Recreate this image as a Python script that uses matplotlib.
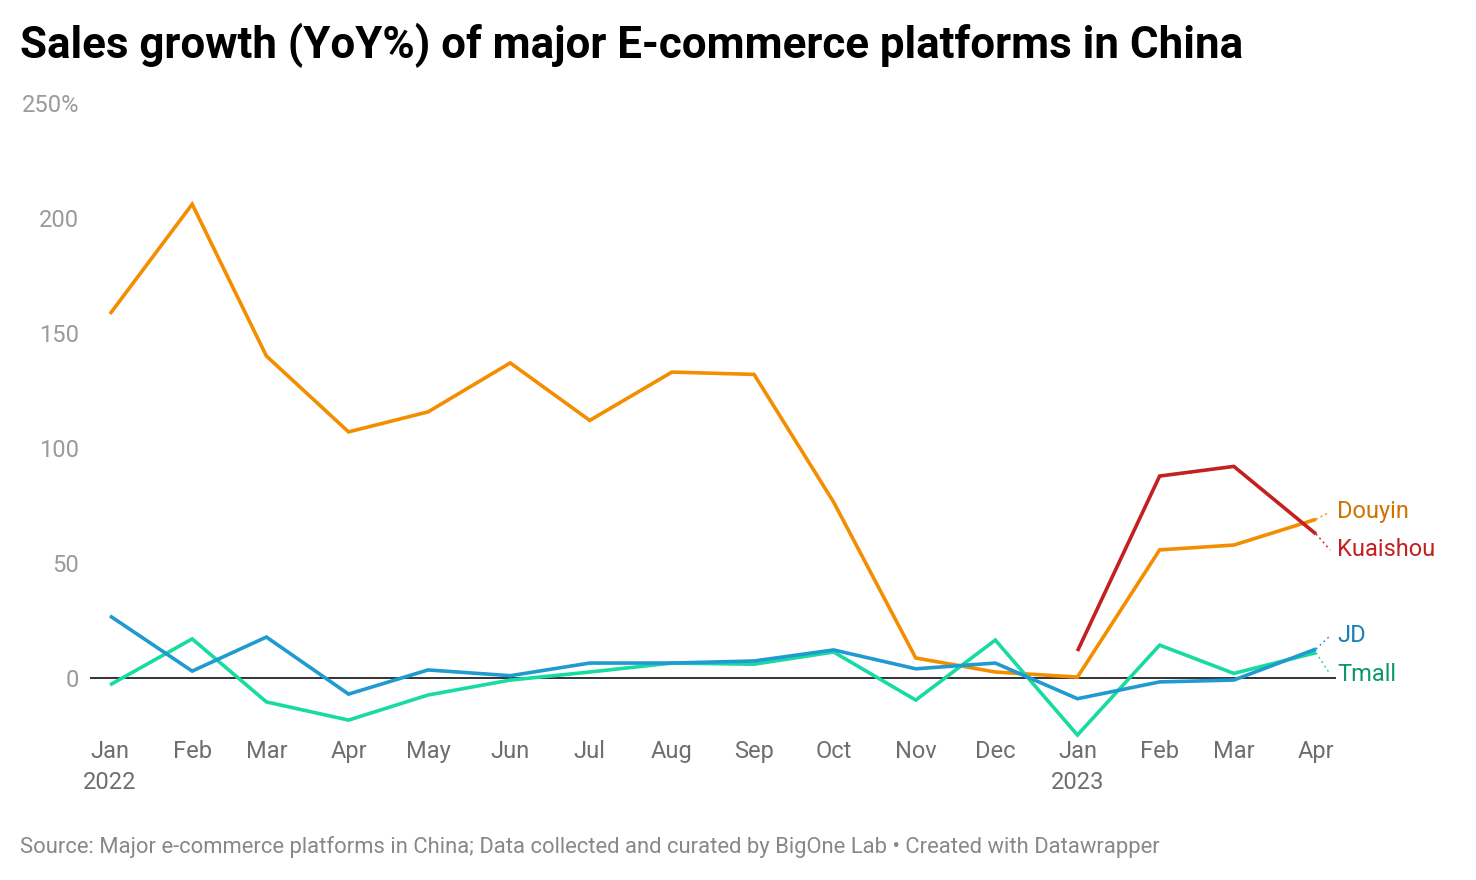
import matplotlib
matplotlib.use("Agg")
import matplotlib.pyplot as plt
from datetime import date

plt.rcParams['font.family'] = ['Roboto', 'DejaVu Sans']

dates = ["2022-01-01", "2022-02-01", "2022-03-01", "2022-04-01", "2022-05-01", "2022-06-01",
         "2022-07-01", "2022-08-01", "2022-09-01", "2022-10-01", "2022-11-01", "2022-12-01",
         "2023-01-01", "2023-02-01", "2023-03-01", "2023-04-01"]
tick_labels = ["Jan\n2022", "Feb", "Mar", "Apr", "May", "Jun", "Jul", "Aug", "Sep", "Oct", "Nov", "Dec",
               "Jan\n2023", "Feb", "Mar", "Apr"]

douyin = [158.3, 206, 140, 107, 115.7, 137, 112, 133, 132, 76.5, 8.7, 2.6, 0.4, 55.7, 57.8, 69]
kuaishou = [None]*12 + [11.7, 87.8, 92, 62.6]
jd = [27, 3, 17.8, -7, 3.5, 1, 6.5, 6.5, 7.4, 12.2, 4, 6.5, -9, -1.7, -0.9, 12.6]
tmall = [-3, 17, -10.4, -18.3, -7.4, -0.9, 2.6, 6.5, 6, 11.3, -9.6, 16.5, -24.8, 14.3, 2, 11]

series = [
    ("Douyin", douyin, "#f28e00", "#cf7300", 72.2),
    ("Kuaishou", kuaishou, "#c3201f", "#c3201f", 55.7),
    ("Tmall", tmall, "#18dba2", "#0b9a63", 1.7),
    ("JD", jd, "#1f9bd0", "#1681b5", 18.3),
]

yticks = [0, 50, 100, 150, 200, 250]
ytick_labels = ["0", "50", "100", "150", "200", "250%"]

d0 = date.fromisoformat(dates[0])
x = [(date.fromisoformat(d) - d0).days for d in dates]
span = x[-1] - x[0]

W, H = 1476, 880
fig = plt.figure(figsize=(W/100, H/100), dpi=100)
fig.patch.set_facecolor("white")

left_px, right_px = 90, 1336
bottom_px, top_px = 747, 103
ax = fig.add_axes([left_px/W, (H-bottom_px)/H, (right_px-left_px)/W, (bottom_px-top_px)/H])
ppd = (1316 - 110) / span
pad_days = 20 / ppd
ax.set_xlim(x[0] - pad_days, x[-1] + pad_days)
ax.set_ylim(-30, 250)
for s in ax.spines.values():
    s.set_visible(False)

ax.axhline(0, color="#111111", lw=1.2, zorder=1)

for name, vals, col, lcol, ly in series:
    xs = [i for i, v in zip(x, vals) if v is not None]
    ys = [v for v in vals if v is not None]
    ax.plot(xs, ys, color=col, lw=2.6, solid_joinstyle="miter", solid_capstyle="butt", zorder=3)
    ax.plot([xs[-1], xs[-1] + 14 / ppd], [ys[-1], ly], color=col, lw=1.1, ls=(0, (1.2, 2.2)),
            zorder=2, clip_on=False)
    ax.text(xs[-1] + 21 / ppd, ly, name, color=lcol, fontsize=17, va="center", ha="left",
            clip_on=False)

ax.set_xticks(x)
ax.set_xticklabels(tick_labels, fontsize=17, color="#6e6e6e", linespacing=1.45)
ax.tick_params(axis="x", length=0, pad=-5)
for lbl in ax.get_xticklabels():
    lbl.set_verticalalignment("top")

ax.set_yticks(yticks)
ax.set_yticklabels(ytick_labels, fontsize=17, color="#9a9a9a")
ax.tick_params(axis="y", length=0, pad=8)

fig.text(20/W, 1 - 45/H, "Sales growth (YoY%) of major E-commerce platforms in China",
         fontsize=31.6, fontweight="bold", color="#000000", ha="left", va="center")
fig.text(20/W, 1 - 847/H,
         "Source: Major e-commerce platforms in China; Data collected and curated by BigOne Lab \u2022 Created with Datawrapper",
         fontsize=15.8, color="#888888", ha="left", va="center")

fig.savefig("out.png", dpi=100, facecolor="white")
